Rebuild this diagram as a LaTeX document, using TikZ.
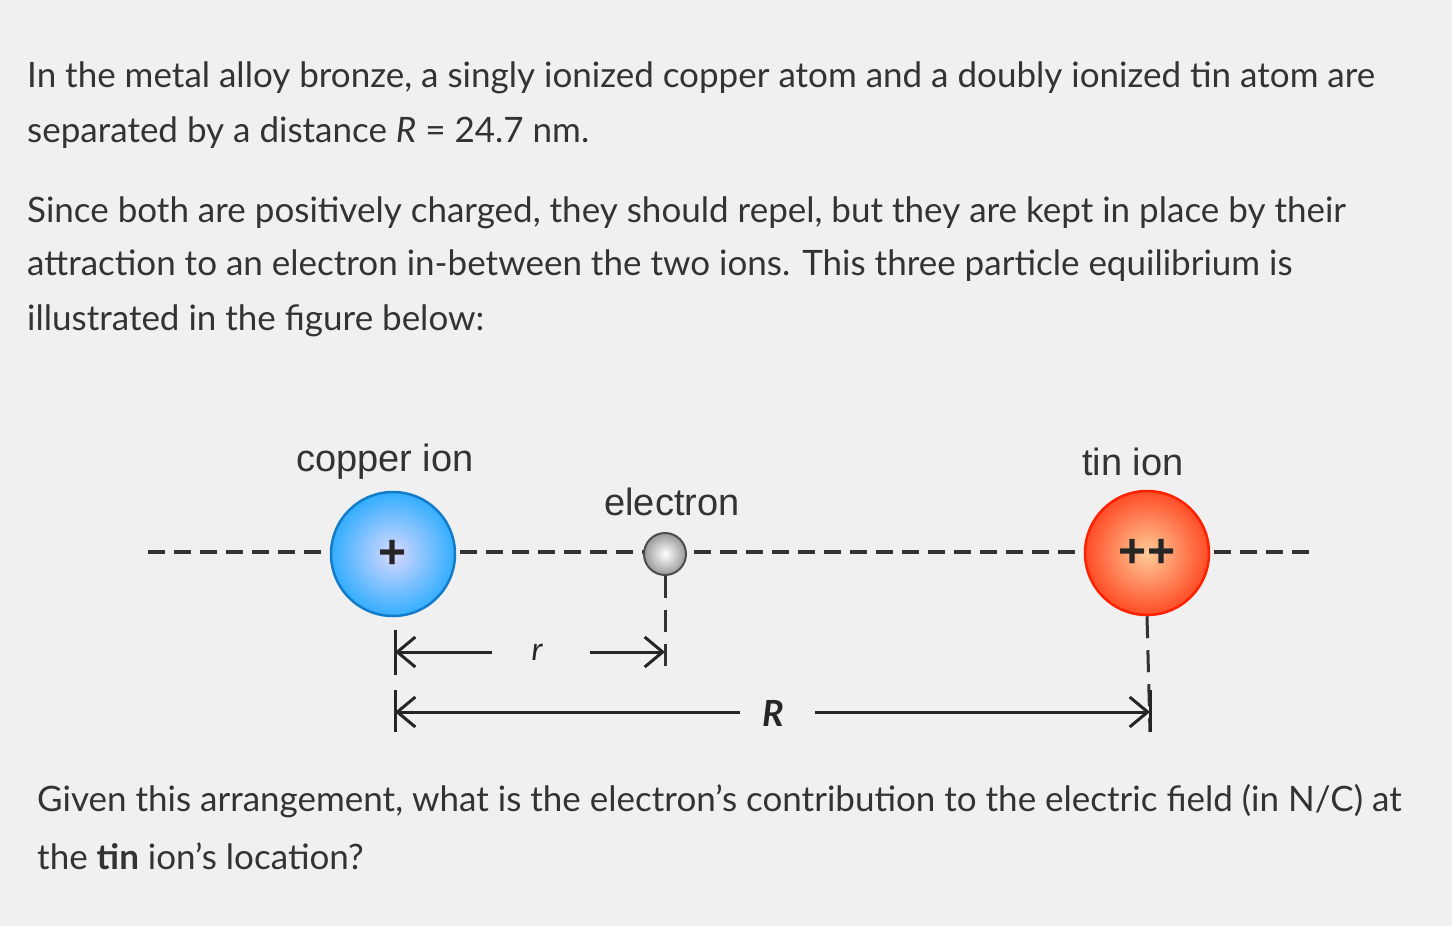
\documentclass[tikz,border=0pt]{standalone}
\usepackage{fontspec}
\setmainfont{Lato}
\newfontfamily\arial{Liberation Sans}
\usetikzlibrary{arrows.meta}
\begin{document}
\begin{tikzpicture}[x=1pt,y=-1pt,
  txt/.style={anchor=west,inner sep=0pt,font=\fontsize{35}{40}\selectfont,text=black!80},
  lbl/.style={inner sep=0pt,font=\arial\fontsize{38}{42}\selectfont,text=black!80},
  dsh/.style={line width=3.5pt,black!80,dash pattern=on 17pt off 9pt},
  dim/.style={line width=3pt,black!85},
  tip/.style={-{Straight Barb[length=18pt,width=30pt,line width=3pt]}}]
\fill[gray!12] (0,0) rectangle (1452,926);
\useasboundingbox (0,0) rectangle (1452,926);
\node[txt] (l1) at (27,78) {In the metal alloy bronze, a singly ionized copper atom and a doubly ionized tin atom are};
\node[txt] (l2) at (27,133) {separated by a distance \textit{R} = 24.7 nm.};
\node[txt] (l3) at (27,213) {Since both are positively charged, they should repel, but they are kept in place by their};
\node[txt] (l4) at (27,266) {attraction to an electron in-between the two ions. This three particle equilibrium is};
\node[txt] (l5) at (27,321) {illustrated in the figure below:};
\node[txt] (l6) at (37,801) {Given this arrangement, what is the electron\char"27 s contribution to the electric field (in N/C) at};
\node[txt] (l7) at (37,856) {the \textbf{tin} ion\char"27 s location?};
% axis
\coordinate (a0) at (148,552); \coordinate (a1) at (1310,552);
\draw[dsh] (a0) -- (a1);
% particles
\node[circle,minimum size=124pt,draw=cyan!60!blue,line width=2.5pt,inner color=blue!15!white,outer color=cyan!60!blue!80,font=\arial\fontsize{48}{50}\selectfont\bfseries,text=black!85] (cu) at (393,554) {+};
\node[circle,minimum size=42pt,draw=black!70,line width=2pt,inner color=white,outer color=gray!80] (el) at (665,554) {};
\node[circle,minimum size=124pt,draw=red!75!orange,line width=2.5pt,inner color=orange!40!white,outer color=red!65!orange!85,font=\arial\fontsize{48}{50}\selectfont\bfseries,text=black!85] (sn) at (1147,553) {++};
\node[lbl] (cul) at (385,462) {copper ion};
\node[lbl] (ell) at (672,502) {electron};
\node[lbl] (snl) at (1133,462) {tin ion};
% dimension markers
\coordinate (e2) at (665,674);
\draw[dsh,line width=3pt,dash pattern=on 22pt off 12pt] (el.south) -- (e2);
\coordinate (t1) at (1150,732);
\draw[dsh,line width=3pt,dash pattern=on 22pt off 12pt] (sn.south) -- (t1);
\coordinate (c1) at (395,630); \coordinate (c2) at (395,675);
\coordinate (c3) at (395,690); \coordinate (c4) at (395,732);
\draw[dim] (c1) -- (c2); \draw[dim] (c3) -- (c4);
\coordinate (t0) at (1150,690); \draw[dim] (t0) -- (t1);
\node[font=\fontsize{32}{32}\selectfont\itshape,text=black!85] (rl) at (537,652) {r};
\node[font=\fontsize{36}{36}\selectfont\bfseries\itshape,text=black!85] (Rl) at (773,713) {R};
\coordinate (rm1) at (492,652); \coordinate (rm2) at (590,652);
\coordinate (Rm1) at (740,712); \coordinate (Rm2) at (815,712);
\draw[dim,tip] (rm1) -- (395,652);
\draw[dim,tip] (rm2) -- (665,652);
\draw[dim,tip] (Rm1) -- (395,712);
\draw[dim,tip] (Rm2) -- (1150,712);
\end{tikzpicture}
\end{document}
